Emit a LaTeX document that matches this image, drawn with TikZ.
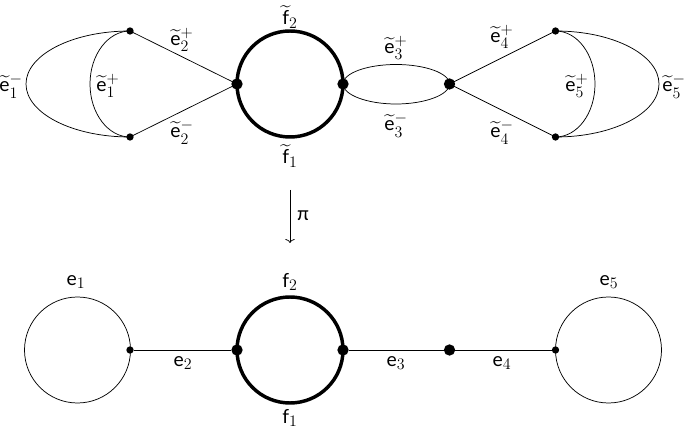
\documentclass[tikz,border=0pt]{standalone}
\usepackage{amsmath}
\usepackage{fontspec}
\usetikzlibrary{arrows.meta}
\setmainfont{Lato}
\DeclareMathSizes{14.5}{14.5}{11.5}{9}
\newcommand{\tl}[3]{$\widetilde{\mathrm{#1}}_{#2}^{#3}$}
\newcommand{\ptl}[2]{$\widetilde{\mathrm{#1}}_{#2}$}
\newcommand{\pl}[2]{$\mathrm{#1}_{#2}$}
\tikzset{
  x=0.75pt,y=0.75pt,
  bigdot/.style={circle,fill=black,inner sep=0pt,minimum size=8.5pt},
  smalldot/.style={circle,fill=black,inner sep=0pt,minimum size=5.5pt},
  edgeline/.style={line width=0.55pt},
  heavy/.style={line width=2.6pt},
  lab/.style={inner sep=0pt,font=\fontsize{14.5}{16}\selectfont}
}
\begin{document}
\begin{tikzpicture}
\useasboundingbox (0,0) rectangle (685,428);
% upper graph
\coordinate (cT) at (290,344);
\coordinate (L1a) at (26,344);
\coordinate (L1b) at (90,344);
\coordinate (R5a) at (595,344);
\coordinate (R5b) at (659,344);
\coordinate (M3t) at (396,363.5);
\coordinate (M3b) at (396,324);
\draw[heavy] (cT) circle[radius=53];
\node[bigdot] (A) at (237,344) {};
\node[bigdot] (B) at (343,344) {};
\node[bigdot] (C) at (449.5,344) {};
\node[smalldot] (TL) at (130,397) {};
\node[smalldot] (BL) at (130,291) {};
\node[smalldot] (TR) at (555.5,397) {};
\node[smalldot] (BR) at (555.5,291) {};
\draw[edgeline] (TL.center) -- (A.center) -- (BL.center);
\draw[edgeline] (TR.center) -- (C.center) -- (BR.center);
\draw[edgeline] (TL.center) .. controls +(-57.4,0) and +(0,29.3) .. (L1a) .. controls +(0,-29.3) and +(-57.4,0) .. (BL.center);
\draw[edgeline] (TL.center) .. controls +(-22,0) and +(0,29.3) .. (L1b) .. controls +(0,-29.3) and +(-22,0) .. (BL.center);
\draw[edgeline] (TR.center) .. controls +(22,0) and +(0,29.3) .. (R5a) .. controls +(0,-29.3) and +(22,0) .. (BR.center);
\draw[edgeline] (TR.center) .. controls +(57.4,0) and +(0,29.3) .. (R5b) .. controls +(0,-29.3) and +(57.4,0) .. (BR.center);
\draw[edgeline] (B.center) .. controls +(0,10.8) and +(-29,0) .. (M3t) .. controls +(29,0) and +(0,10.8) .. (C.center);
\draw[edgeline] (B.center) .. controls +(0,-10.8) and +(-29,0) .. (M3b) .. controls +(29,0) and +(0,-10.8) .. (C.center);
\node[lab] (l1) at (11,342) {\tl{e}{1}{-}};
\node[lab] (l2) at (108,342) {\tl{e}{1}{+}};
\node[lab] (l3) at (182,388) {\tl{e}{2}{+}};
\node[lab] (l4) at (182,296) {\tl{e}{2}{-}};
\node[lab] (l5) at (290,411) {\ptl{f}{2}};
\node[lab] (l6) at (290,272) {\ptl{f}{1}};
\node[lab] (l7) at (396,380) {\tl{e}{3}{+}};
\node[lab] (l8) at (396,303) {\tl{e}{3}{-}};
\node[lab] (l9) at (502,391) {\tl{e}{4}{+}};
\node[lab] (l10) at (502,296) {\tl{e}{4}{-}};
\node[lab] (l11) at (577,342) {\tl{e}{5}{+}};
\node[lab] (l12) at (674,342) {\tl{e}{5}{-}};
% arrow
\coordinate (arT) at (290,238);
\coordinate (arB) at (290,185);
\draw[edgeline,-{To[length=3pt,width=7pt]}] (arT) -- (arB);
\node[lab] (pi) at (303,212) {π};
% lower graph
\coordinate (cL) at (77.5,78);
\coordinate (cM) at (290,78);
\coordinate (cR) at (608.5,78);
\draw[edgeline] (cL) circle[radius=53];
\draw[edgeline] (cR) circle[radius=53];
\draw[heavy] (cM) circle[radius=53];
\node[smalldot] (a) at (130,78) {};
\node[bigdot] (b) at (237,78) {};
\node[bigdot] (c) at (343,78) {};
\node[bigdot] (d) at (449.5,78) {};
\node[smalldot] (g) at (555.5,78) {};
\draw[edgeline] (a) -- (b);
\draw[edgeline] (c) -- (d);
\draw[edgeline] (d) -- (g);
\node[lab] (m1) at (76,146) {\pl{e}{1}};
\node[lab] (m2) at (290,146) {\pl{f}{2}};
\node[lab] (m3) at (183,65) {\pl{e}{2}};
\node[lab] (m4) at (290,10) {\pl{f}{1}};
\node[lab] (m5) at (396,65) {\pl{e}{3}};
\node[lab] (m6) at (502,65) {\pl{e}{4}};
\node[lab] (m7) at (609,146) {\pl{e}{5}};
\end{tikzpicture}
\end{document}
